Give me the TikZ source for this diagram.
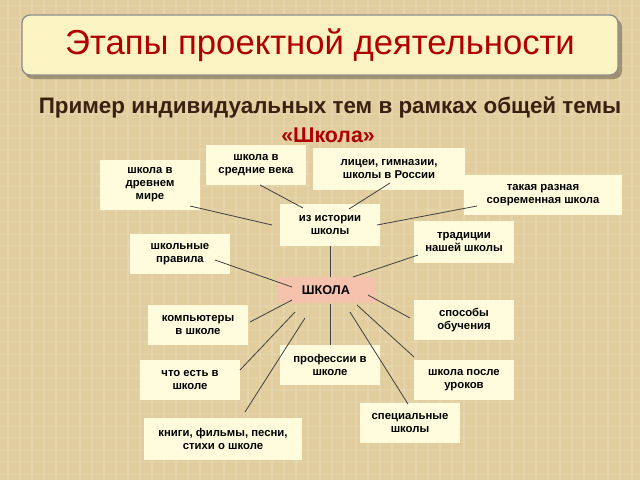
\documentclass[tikz,border=0pt]{standalone}
\usepackage{fontspec}
\setmainfont{Liberation Sans}
\begin{document}
\begin{tikzpicture}[x=0.75pt,y=-0.75pt,
  box/.style={fill=boxfill,font=\bfseries\fontsize{8.5}{9.8}\selectfont,align=center,inner sep=0pt},
  ln/.style={draw=black!75,line width=0.6pt}]
\definecolor{bg}{HTML}{E2CD9E}
\definecolor{boxfill}{HTML}{FEFCDC}
\definecolor{titlefill}{HTML}{FBF3C2}
\definecolor{dred}{HTML}{B00000}
\definecolor{dbrown}{HTML}{3A2010}
\definecolor{pink}{HTML}{F5C2AE}
\fill[bg] (0,0) rectangle (640,480);
\useasboundingbox (0,0) rectangle (640,480);
\foreach \x in {8,20,...,640} \draw[white,opacity=0.12,line width=1.2pt] (\x,0) -- (\x,480);
\foreach \y in {6,18,...,480} \draw[white,opacity=0.10,line width=1pt] (0,\y) -- (640,\y);
\fill[black,opacity=0.3,rounded corners=6pt] (25,19) rectangle (622,79);
\node (title) [draw=black!45,line width=1pt,fill=titlefill,rounded corners=6pt,minimum width=596*0.75pt,minimum height=60*0.75pt,font=\fontsize{26}{30}\selectfont,text=dred] at (320,45) {Этапы проектной деятельности};
\node (sub) [font=\bfseries\fontsize{16.8}{19}\selectfont,text=dbrown] at (330,107) {Пример индивидуальных тем в рамках общей темы};
\node (sch) [font=\bfseries\fontsize{16}{19}\selectfont,text=dred] at (328,135) {«Школа»};
\node (n1) [box,minimum width=75pt,minimum height=30pt] at (256,165) {школа в\\средние века};
\node (n2) [box,minimum width=114pt,minimum height=31pt] at (389,169) {лицеи, гимназии,\\школы в России};
\node (n3) [box,minimum width=75pt,minimum height=37pt] at (150,185) {школа в\\древнем\\мире};
\node (n4) [box,minimum width=118pt,minimum height=30pt] at (543,195) {такая разная\\современная школа};
\node (n5) [box,minimum width=75pt,minimum height=31pt] at (330,225) {из истории\\школы};
\node (n6) [box,minimum width=75pt,minimum height=31pt] at (464,242) {традиции\\нашей школы};
\node (n7) [box,minimum width=75pt,minimum height=30pt] at (180,254) {школьные\\правила};
\node (c) [box,fill=pink,font=\bfseries\fontsize{9.5}{11}\selectfont,minimum width=74pt,minimum height=20pt] at (326,290) {ШКОЛА};
\node (n8) [box,minimum width=75pt,minimum height=30pt] at (464,320) {способы\\обучения};
\node (n9) [box,minimum width=75pt,minimum height=30pt] at (198,325) {компьютеры\\в школе};
\node (n10) [box,minimum width=75pt,minimum height=30pt] at (330,365) {профессии в\\школе};
\node (n11) [box,minimum width=75pt,minimum height=30pt] at (190,380) {что есть в\\школе};
\node (n12) [box,minimum width=75pt,minimum height=30pt] at (464,380) {школа после\\уроков};
\node (n13) [box,minimum width=75pt,minimum height=30pt] at (410,423) {специальные\\школы};
\node (n14) [box,minimum width=118pt,minimum height=31pt] at (223,439) {книги, фильмы, песни,\\стихи о школе};
\coordinate (a1) at (260,185); \coordinate (b1) at (303,208);
\coordinate (a2) at (390,183); \coordinate (b2) at (349,209);
\coordinate (a3) at (190,206); \coordinate (b3) at (272,225);
\coordinate (a4) at (477,206); \coordinate (b4) at (377,225);
\coordinate (a5) at (330,246); \coordinate (b5) at (330,277);
\coordinate (a7) at (215,260); \coordinate (b7) at (292,287);
\coordinate (a6) at (418,255); \coordinate (b6) at (353,277);
\coordinate (a8) at (410,318); \coordinate (b8) at (368,295);
\coordinate (a9) at (250,322); \coordinate (b9) at (292,300);
\coordinate (a10) at (330,345); \coordinate (b10) at (330,304);
\coordinate (a11) at (240,370); \coordinate (b11) at (295,312);
\coordinate (a14) at (245,412); \coordinate (b14) at (305,318);
\coordinate (a13) at (408,404); \coordinate (b13) at (350,312);
\coordinate (a12) at (414,357); \coordinate (b12) at (357,305);
\draw[ln] (a1) -- (b1); \draw[ln] (a2) -- (b2); \draw[ln] (a3) -- (b3); \draw[ln] (a4) -- (b4);
\draw[ln] (a5) -- (b5); \draw[ln] (a10) -- (b10);
\draw[ln] (a7) -- (b7); \draw[ln] (a6) -- (b6); \draw[ln] (a8) -- (b8); \draw[ln] (a9) -- (b9);
\draw[ln] (a11) -- (b11); \draw[ln] (a14) -- (b14); \draw[ln] (a13) -- (b13); \draw[ln] (a12) -- (b12);
\end{tikzpicture}
\end{document}
